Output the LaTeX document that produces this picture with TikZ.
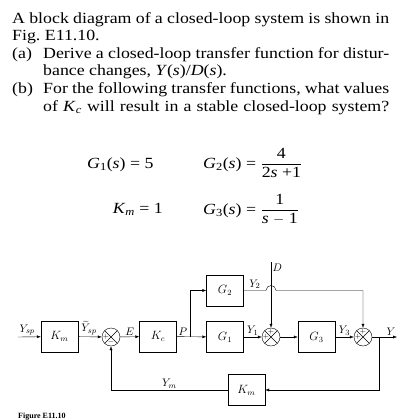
\documentclass[tikz,border=0pt]{standalone}
\usepackage{fontspec}
\setmainfont{Liberation Serif}
\newfontfamily\taskfont{Liberation Serif}[FakeStretch=1.15]
\usetikzlibrary{arrows.meta}
\newcommand{\vi}[1]{\textit{#1}}

\begin{document}
\begin{tikzpicture}[x=1pt,y=-1pt,
    >={Latex[length=4pt,width=3pt]},
    block/.style={draw, minimum width=37pt, minimum height=31pt, inner sep=0pt, font=\fontsize{11.5}{13}\selectfont},
    sumnode/.style={draw, circle, minimum size=18pt, inner sep=0pt,
        path picture={\draw (path picture bounding box.north west) -- (path picture bounding box.south east)
                            (path picture bounding box.north east) -- (path picture bounding box.south west);}},
    sig/.style={inner sep=1.5pt, font=\fontsize{11}{13}\selectfont},
    sgn/.style={font=\scriptsize, inner sep=0pt}]
    \useasboundingbox (0,0) rectangle (406,420);

    % the exercise text
    \node[anchor=north west, inner sep=0pt, text width=377pt, align=justify,
          font=\taskfont\fontsize{15.5}{17.6}\selectfont] (task) at (12,12) {\parindent=0pt
        A block diagram of a closed-loop system is shown in\linebreak Fig.~E11.10.\par
        \hangindent=31pt\hangafter=1 \makebox[31pt][l]{(a)}Derive a closed-loop transfer function for distur-\linebreak
        bance changes, \vi{Y}(\vi{s})/\vi{D}(\vi{s}).\par
        \hangindent=31pt\hangafter=1\parfillskip=0pt \makebox[31pt][l]{(b)}For the following transfer functions, what values\linebreak
        of \vi{K}\textsubscript{\vi{c}} will result in a stable closed-loop system?\par};

    % the transfer functions
    \node[anchor=base west, inner sep=0pt, font=\taskfont\fontsize{15.5}{18}\selectfont] (g1eq) at (87,168)
        {\vi{G}\textsubscript{1}(\vi{s}) = 5};
    \node[anchor=base west, inner sep=0pt, font=\taskfont\fontsize{15.5}{18}\selectfont] (g2eq) at (203,168)
        {\vi{G}\textsubscript{2}(\vi{s}) = {$\displaystyle\frac{\mbox{4}}{\mbox{2\vi{s} +1}}$}};
    \node[anchor=base east, inner sep=0pt, font=\taskfont\fontsize{15.5}{18}\selectfont] (kmeq) at (163,213)
        {\vi{K}\textsubscript{\vi{m}} = 1};
    \node[anchor=base west, inner sep=0pt, font=\taskfont\fontsize{15.5}{18}\selectfont] (g3eq) at (203,214)
        {\vi{G}\textsubscript{3}(\vi{s}) = {$\displaystyle\frac{\mbox{1}}{\mbox{\vi{s} $-$ 1}}$}};

    % blocks and summing points
    \node[block] (km1) at (59.5,336.5) {$K_m$};
    \node[sumnode] (s1) at (111,337) {};
    \node[block] (kc) at (158,336.5) {$K_c$};
    \node[block] (g2) at (225,290.5) {$G_2$};
    \node[block] (g1) at (225,337) {$G_1$};
    \node[sumnode] (s2) at (271,337) {};
    \node[block] (g3) at (316.5,337) {$G_3$};
    \node[sumnode] (s3) at (363,337) {};
    \node[block] (km2) at (246.5,390) {$K_m$};
    \coordinate (ysp) at (18,337);
    \coordinate (pbr) at (190,337);
    \coordinate (dtop) at (271,262);
    \coordinate (yend) at (397,337);
    \coordinate (ybr) at (379,337);

    % signs
    \node[sgn] at ([xshift=-5pt]s1.center) {$+$};
    \node[sgn] at ([yshift=-5pt]s1.center) {$-$};
    \node[sgn] at ([xshift=-5pt]s2.center) {$+$};
    \node[sgn] at ([yshift=5pt]s2.center) {$+$};
    \node[sgn] at ([xshift=-5pt]s3.center) {$+$};
    \node[sgn] at ([yshift=5pt]s3.center) {$+$};

    % signals
    \draw[->] (ysp) -- (km1);
    \draw[->] (km1) -- node[sig, above, xshift=-1pt] {$\widetilde{Y}_{sp}$} (s1);
    \draw[->] (s1) -- node[sig, above] {$E$} (kc);
    \draw[->] (kc) -- (g1);
    \draw[->] (pbr) |- (g2);
    \draw[->] (g1) -- node[sig, above] {$Y_1$} (s2);
    \draw[->] (dtop) -- (s2);
    \draw[->] (s2) -- (g3);
    \draw[->] (g3) -- node[sig, above] {$Y_3$} (s3);
    \draw[->] (s3) -- (yend);
    \draw[->] (g2.east) -- node[sig, above] {$Y_2$} ([xshift=-5pt]dtop |- g2.east)
        arc[start angle=180, end angle=0, radius=5pt] -- (s3 |- g2.east) -- (s3);
    \draw[->] (ybr) |- (km2);
    \draw[->] (km2) -| node[sig, above, pos=0.25] {$Y_m$} (s1);

    \node[sig, above right] at (ysp) {$Y_{sp}$};
    \node[sig, above] at ([xshift=-7pt]pbr) {$P$};
    \node[sig, anchor=north west] at (dtop) {$D$};
    \node[sig, above left] at (yend) {$Y$};

    \node[anchor=base west, inner sep=0pt, font=\fontsize{8}{9}\selectfont\bfseries] (figcap) at (18,418) {Figure E11.10};
\end{tikzpicture}
\end{document}
